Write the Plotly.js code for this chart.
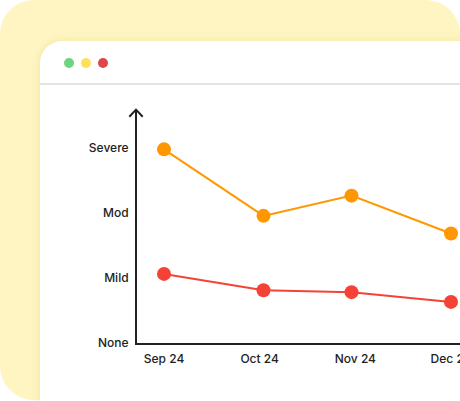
<!DOCTYPE html>
<html>
<head>
<meta charset="utf-8">
<script src="https://cdn.plot.ly/plotly-3.0.1.min.js"></script>
<style>
  html, body { margin: 0; padding: 0; width: 460px; height: 401px; overflow: hidden; background: #ffffff; }
  .bg { position: absolute; left: 0; top: 0; width: 460px; height: 400px; background: #FEF5C3; border-radius: 34px; }
  .card { position: absolute; left: 40px; top: 41px; width: 460px; height: 420px; background: #ffffff;
          border-radius: 22px 0 0 0; box-shadow: 0 0 9px rgba(210, 175, 40, 0.22); }
  .bar { position: absolute; left: 40px; top: 83px; width: 420px; height: 1.5px; background: #E4E4E4; }
  .dot { position: absolute; top: 58px; width: 10px; height: 10px; border-radius: 50%; }
  #chart { position: absolute; left: 0; top: 0; width: 460px; height: 401px; }
</style>
</head>
<body>
<div class="bg"></div>
<div class="card"></div>
<div class="bar"></div>
<div class="dot" style="left:64px; background:#6DD480;"></div>
<div class="dot" style="left:81px; background:#FDE15C;"></div>
<div class="dot" style="left:98px; background:#E0454B;"></div>
<div id="chart"></div>
<script>
// ---- data ----
const months = ["Sep 24", "Oct 24", "Nov 24", "Dec 24"];
const monthPositions = [0, 1, 2, 3];
const pointPositions = [0, 1.04, 1.96, 3];
const severityLevels = ["None", "Mild", "Mod", "Severe"];
const severityValues = [0, 1, 2, 3];
const seriesOrange = [2.97, 1.95, 2.26, 1.68];
const seriesRed = [1.06, 0.81, 0.78, 0.63];

// ---- layout constants ----
const W = 460, H = 401;
const M = { l: 137, r: 0, t: 110, b: 58 };
const plotW = W - M.l - M.r, plotH = H - M.t - M.b;
const pxPerMonth = 95.67, pxPerLevel = 65.2;
const firstTickPx = 164;
const xMin = -(firstTickPx - M.l) / pxPerMonth;
const xMax = xMin + plotW / pxPerMonth;
const yMax = plotH / pxPerLevel;

const ink = "#222222";
const fontFam = "Inter, 'Noto Sans', sans-serif";

function px2paperX(px) { return (px - M.l) / plotW; }
function px2paperY(py) { return (H - M.b - py) / plotH; }

const arrowPath = "M " + px2paperX(129.3) + "," + px2paperY(116.8) +
                  " L " + px2paperX(136) + "," + px2paperY(109.6) +
                  " L " + px2paperX(142.7) + "," + px2paperY(116.8);

const traces = [
  { x: pointPositions, y: seriesOrange, type: "scatter", mode: "lines+markers",
    line: { color: "#FF9800", width: 2 }, marker: { color: "#FF9800", size: 14 }, cliponaxis: false, hoverinfo: "skip" },
  { x: pointPositions, y: seriesRed, type: "scatter", mode: "lines+markers",
    line: { color: "#F44336", width: 2 }, marker: { color: "#F44336", size: 14 }, cliponaxis: false, hoverinfo: "skip" }
];

const layout = {
  width: W, height: H,
  margin: M,
  paper_bgcolor: "rgba(0,0,0,0)", plot_bgcolor: "rgba(0,0,0,0)",
  showlegend: false,
  font: { family: fontFam, color: ink, size: 12 },
  xaxis: {
    range: [xMin, xMax], tickvals: monthPositions, ticktext: months,
    showgrid: false, zeroline: false, showline: true, linecolor: ink, linewidth: 2,
    ticks: "", ticklabelstandoff: 4, ticklabeloverflow: "allow",
    tickfont: { family: fontFam, size: 12, color: ink, weight: 500 }, fixedrange: true
  },
  yaxis: {
    range: [0, yMax], tickvals: severityValues, ticktext: severityLevels,
    showgrid: false, zeroline: false, showline: true, linecolor: ink, linewidth: 2,
    ticks: "", ticklabelstandoff: 4, ticklabeloverflow: "allow",
    tickfont: { family: fontFam, size: 12, color: ink, weight: 500 }, fixedrange: true
  },
  shapes: [
    { type: "path", xref: "paper", yref: "paper", path: arrowPath,
      line: { color: ink, width: 2 }, fillcolor: "rgba(0,0,0,0)" }
  ]
};

Plotly.newPlot("chart", traces, layout, { displayModeBar: false, staticPlot: true });
</script>
</body>
</html>
